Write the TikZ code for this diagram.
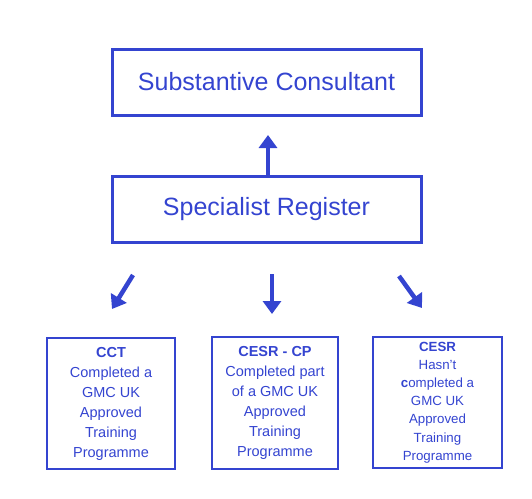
\documentclass[tikz,border=0pt]{standalone}
\usepackage{fontspec}
\setmainfont{Liberation Sans}
\usetikzlibrary{arrows.meta}
\definecolor{bl}{RGB}{52,68,208}
\tikzset{
  bigbox/.style={draw=bl, line width=3pt, minimum width=309pt, minimum height=66pt, text=bl, font=\fontsize{25}{30}\selectfont, inner sep=0pt},
  smallbox/.style={draw=bl, line width=2pt, text=bl, align=center, inner sep=0pt},
  arr/.style={draw=bl, line width=4.5pt, -{Triangle[length=13pt,width=18pt]}}
}
\begin{document}
\begin{tikzpicture}[x=1pt,y=-1pt]
\useasboundingbox (0,0) rectangle (532,498);
\node[bigbox] (sc) at (266.5,82) {Substantive Consultant};
\node[bigbox] (sr) at (266.5,209.5) {Specialist Register};
\node[smallbox, minimum width=128pt, minimum height=131pt, font=\fontsize{14.5}{20}\selectfont] (cct) at (111,403.5) {\textbf{CCT}\\Completed a\\GMC UK\\Approved\\Training\\Programme};
\node[smallbox, minimum width=126pt, minimum height=132pt, font=\fontsize{14.5}{20}\selectfont] (cp) at (275,403) {\textbf{CESR - CP}\\Completed part\\of a GMC UK\\Approved\\Training\\Programme};
\node[smallbox, minimum width=129pt, minimum height=131pt, font=\fontsize{13.3}{18.2}\selectfont] (cesr) at (437.5,402.5) {\textbf{CESR}\\Hasn't\\\textbf{c}ompleted a\\GMC UK\\Approved\\Training\\Programme};
\coordinate (a1) at (133,275);
\coordinate (a1t) at (112,309);
\coordinate (a2) at (272,274);
\coordinate (a2t) at (272,314);
\coordinate (a3) at (399,276);
\coordinate (a3t) at (422,308);
\draw[arr] (sr.north -| 268,0) -- (268,135);
\draw[arr] (a1) -- (a1t);
\draw[arr] (a2) -- (a2t);
\draw[arr] (a3) -- (a3t);
\end{tikzpicture}
\end{document}
